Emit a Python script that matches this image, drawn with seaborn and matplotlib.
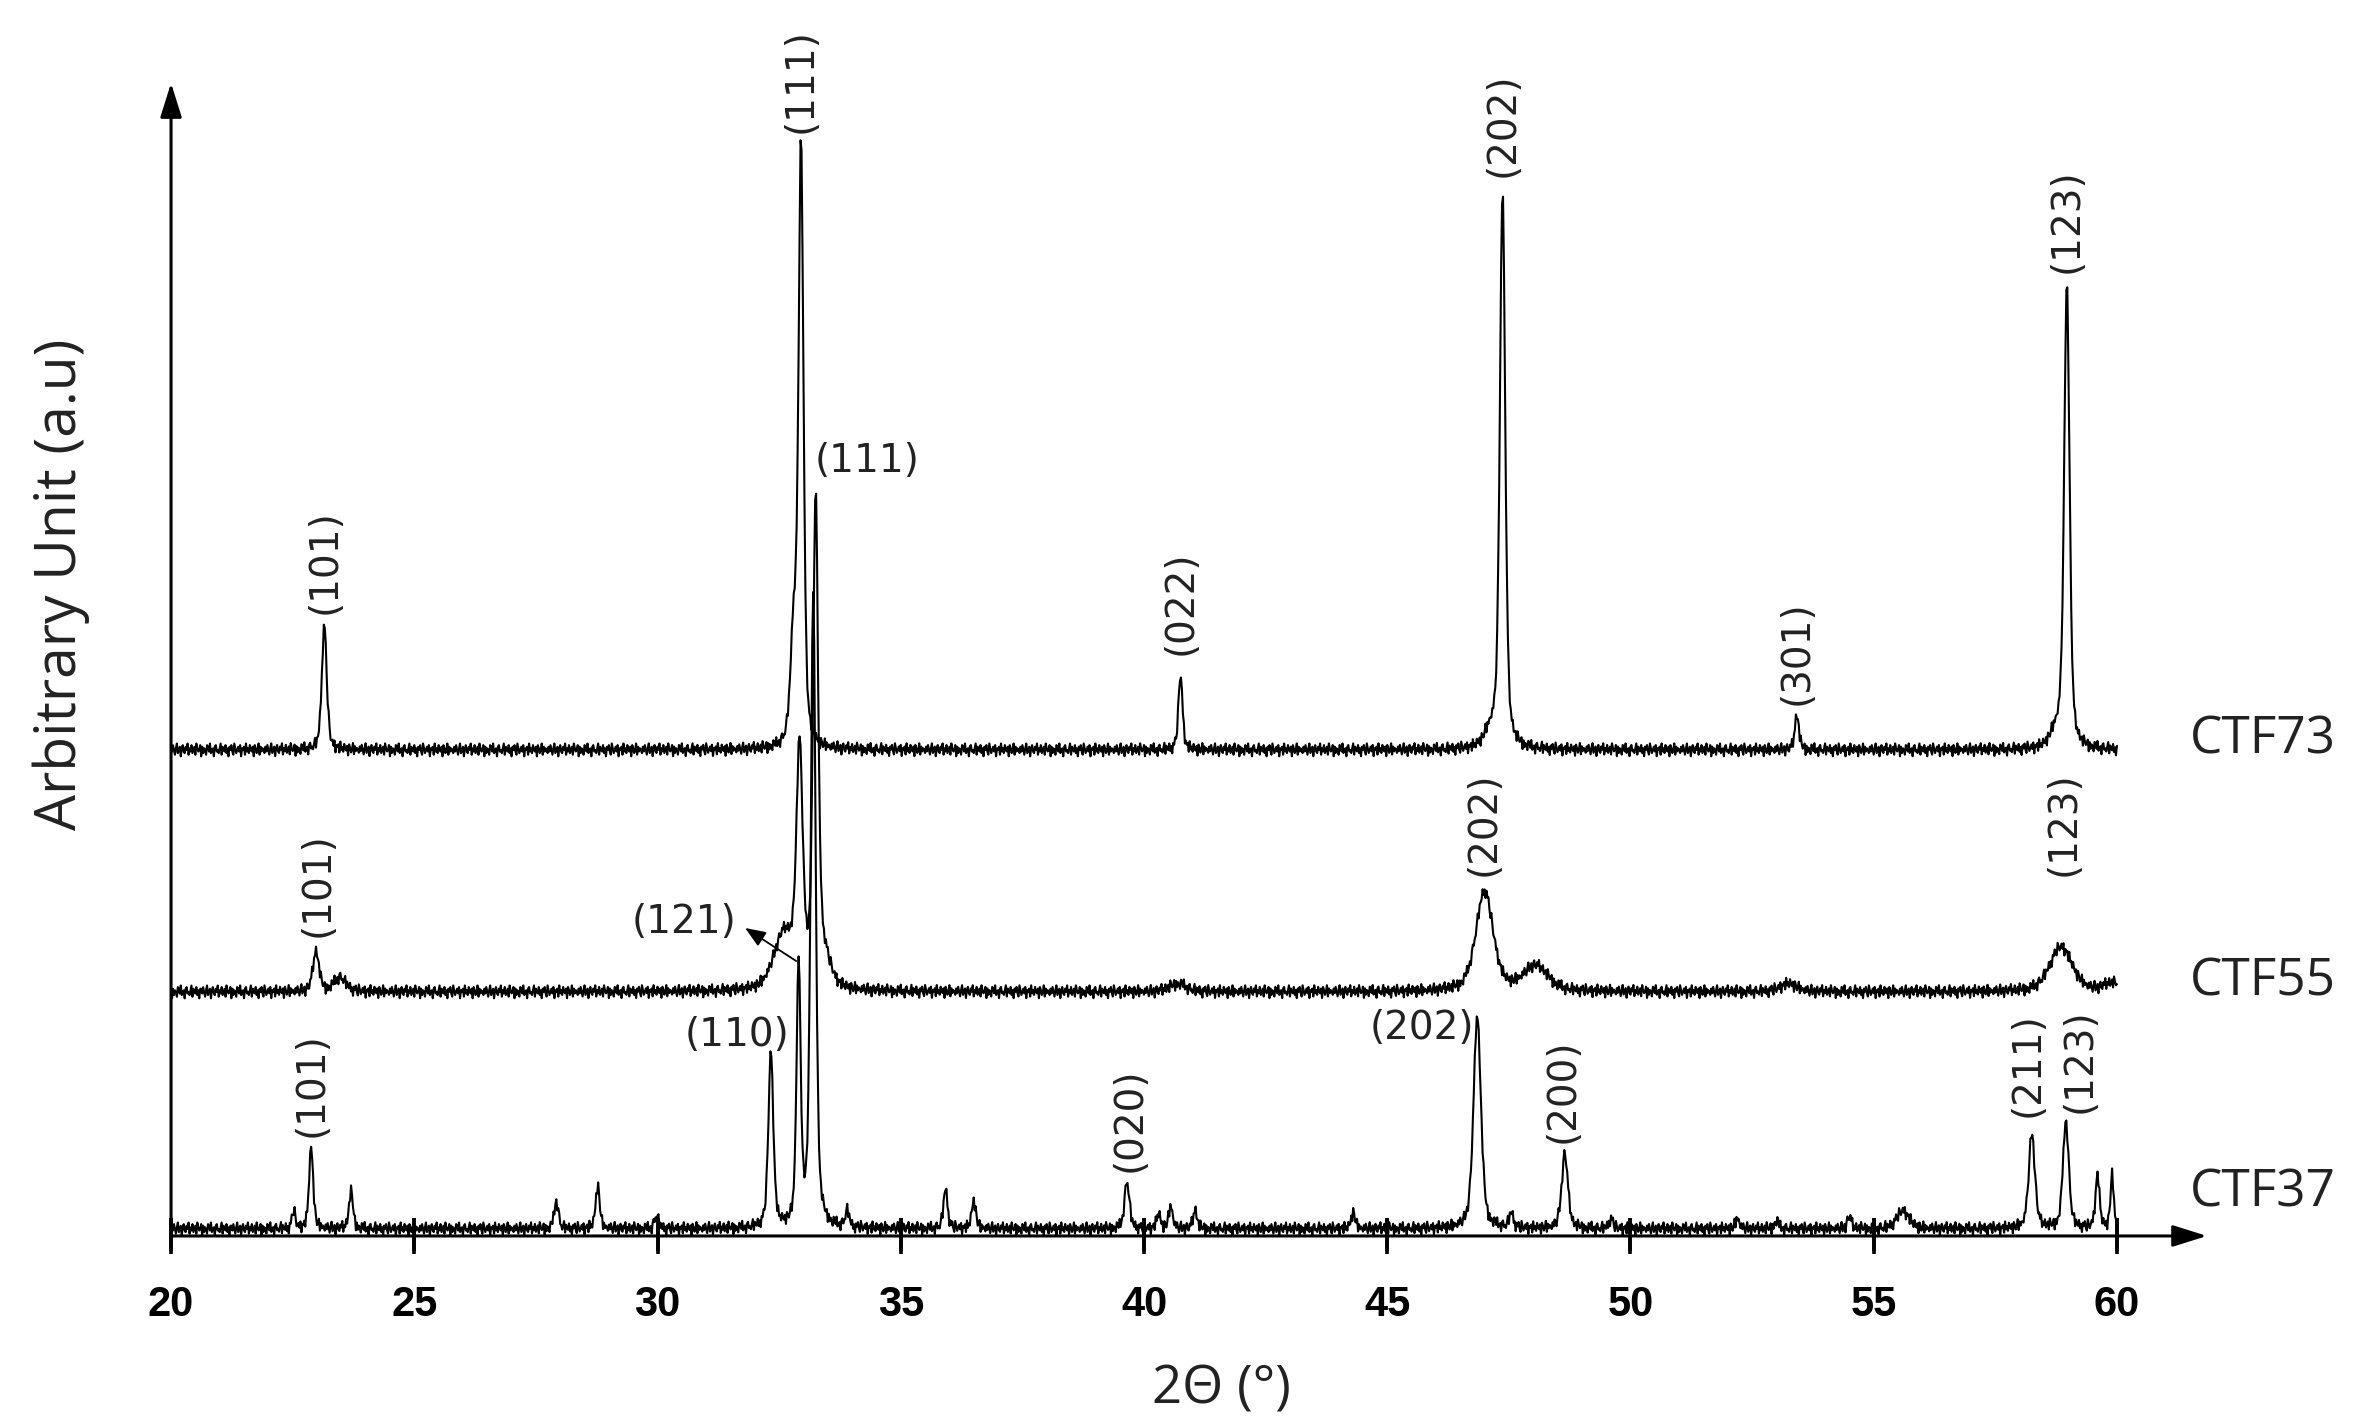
import numpy as np
import pandas as pd
import matplotlib
matplotlib.use("Agg")
import matplotlib.pyplot as plt
import seaborn as sns

# 2-theta scan range (degrees)
THETA_START, THETA_END, THETA_STEP = 20.0, 60.0, 0.02
x_ticks = [20, 25, 30, 35, 40, 45, 50, 55, 60]

samples = ["CTF73", "CTF55", "CTF37"]
offsets = [483, 241, 4]  # stacking offset of each trace (a.u.)

# Peaks: position (deg), height (a.u.), FWHM (deg)
ctf73_pos = [23.15, 32.80, 32.95, 40.75, 47.12, 47.37, 53.42, 58.75, 58.97]
ctf73_height = [125, 110, 600, 75, 15, 560, 35, 15, 465]
ctf73_fwhm = [0.12, 0.15, 0.12, 0.10, 0.30, 0.13, 0.10, 0.30, 0.13]

ctf55_pos = [22.98, 23.47, 32.60, 32.92, 33.25, 33.40, 40.70, 47.00, 48.05, 53.25, 58.85, 59.90]
ctf55_height = [40, 14, 55, 230, 480, 30, 8, 100, 25, 8, 45, 8]
ctf55_fwhm = [0.15, 0.30, 0.50, 0.15, 0.12, 0.35, 0.40, 0.42, 0.60, 0.40, 0.55, 0.40]

ctf37_pos = [22.52, 22.88, 23.70, 27.92, 28.77, 29.98, 32.33, 32.90, 33.20, 33.90,
             35.92, 36.50, 39.65, 40.30, 40.55, 41.05, 44.30, 46.85, 47.55, 48.65,
             49.60, 52.20, 53.00, 54.50, 55.60, 58.25, 58.95, 59.60, 59.90]
ctf37_height = [18, 82, 37, 28, 43, 13, 176, 261, 633, 16,
                40, 28, 47, 14, 22, 18, 16, 213, 15, 75,
                10, 10, 8, 12, 18, 95, 108, 53, 53]
ctf37_fwhm = [0.08, 0.10, 0.10, 0.10, 0.10, 0.10, 0.12, 0.10, 0.12, 0.10,
              0.10, 0.10, 0.12, 0.10, 0.10, 0.10, 0.10, 0.18, 0.10, 0.15,
              0.10, 0.10, 0.10, 0.10, 0.30, 0.15, 0.14, 0.10, 0.08]

# counting noise on the baselines (a.u.), repeated along the scan
noise = [2, -1, 3, 0, -3, 1, 4, -2, 0, 2, -4, 1, 3, -1, -2, 2, 0, 4, -3, 1,
         -1, 3, -2, 0, 2, -3, 4, 1, -1, 0, 3, -4, 2, -2, 1, 0, -3, 3, 2, -1,
         4, -2, 0, 1, -4, 2, 3, -1, 0, -2, 1, 4, -3, 2, 0, -1, 3, -2, 1, -4,
         2, 0, 3, -1, -3, 4, 1, -2, 0, 2, -1, 3, -4, 1, 0, 2, -3, 4, -1, 1,
         -2, 3, 0, -1, 2, -4, 3, 1, -2, 0, 4, -3, 2, -1, 1, 0, -2]

# Miller index labels (rotated): text, 2theta, y of the label foot
rot_labels = ["(101)", "(111)", "(022)", "(202)", "(301)", "(123)",
              "(101)", "(202)", "(123)",
              "(101)", "(020)", "(200)", "(211)", "(123)"]
rot_label_x = [23.15, 32.95, 40.75, 47.37, 53.42, 58.97,
               23.02, 46.98, 58.90,
               22.88, 39.70, 48.60, 58.17, 59.24]
rot_label_y = [619, 1100, 578, 1056, 528, 960,
               296, 357, 357,
               96, 61, 90, 116, 120]

# horizontal labels: text, 2theta, y of label centre
flat_labels = ["(111)", "(121)", "(110)", "(202)"]
flat_label_x = [34.31, 30.54, 31.63, 45.71]
flat_label_y = [772, 311, 198, 205]

sample_label_x = 61.50
sample_label_y = [493, 251, 40]


def pseudo_voigt(x, pos, h, w):
    d = (x - pos) / (w / 2.0)
    return h * (0.5 / (1.0 + d ** 2) + 0.5 * np.exp(-np.log(2) * d ** 2))


theta = np.arange(THETA_START, THETA_END + THETA_STEP / 2, THETA_STEP)
n = len(theta)
base_noise = np.resize(np.array(noise, dtype=float), n)

peak_sets = [
    (ctf73_pos, ctf73_height, ctf73_fwhm),
    (ctf55_pos, ctf55_height, ctf55_fwhm),
    (ctf37_pos, ctf37_height, ctf37_fwhm),
]

frames = []
for i, (name, off, (pos, hgt, fw)) in enumerate(zip(samples, offsets, peak_sets)):
    y = np.zeros(n)
    for p, h, w in zip(pos, hgt, fw):
        y += pseudo_voigt(theta, p, h, w)
    y += 1.6 * np.roll(base_noise, 31 * i) + off
    frames.append(pd.DataFrame({"theta": theta, "intensity": y, "sample": name}))
df = pd.concat(frames, ignore_index=True)

sns.set_style("white")
plt.rcParams["font.family"] = ["DejaVu Sans"]

fig = plt.figure(figsize=(23.69, 14.2), dpi=100)
ax = fig.add_axes([0.0722, 0.1296, 0.8594, 0.8119])

sns.lineplot(data=df, x="theta", y="intensity", hue="sample",
             palette={s: "black" for s in samples}, legend=False,
             estimator=None, linewidth=1.5, ax=ax)

ax.set_xlim(20, 61.85)
ax.set_ylim(-3, 1150)
for s in ax.spines.values():
    s.set_visible(False)

# axes drawn as arrows
arrow = dict(arrowstyle="-|>,head_length=0.7,head_width=0.22", color="black",
             lw=2.2, mutation_scale=30, shrinkA=0, shrinkB=0)
ax.annotate("", xy=(1, 0), xytext=(0, 0), xycoords="axes fraction", arrowprops=arrow)
ax.annotate("", xy=(0, 1), xytext=(0, 0), xycoords="axes fraction", arrowprops=arrow)

ax.set_xticks(x_ticks)
ax.set_yticks([])
ax.tick_params(axis="x", which="major", bottom=True, direction="inout",
               length=26, width=2.6, pad=22, labelsize=30, colors="black")
# tick marks crossing the arrow axis
ax.vlines(x_ticks, -0.013, 0.016, transform=ax.get_xaxis_transform(),
          colors="black", linewidth=2.6, clip_on=False, zorder=5)
for lab in ax.get_xticklabels():
    lab.set_fontfamily(["Liberation Sans Narrow", "Liberation Sans"])
    lab.set_fontweight("bold")

ax.set_xlabel("2Θ (°)", fontsize=38, family="Open Sans", color="#222222")
ax.xaxis.set_label_coords(0.516, -0.133)
ax.xaxis.label.set_va("center")
ax.set_ylabel("Arbitrary Unit (a.u)", fontsize=41, family="Open Sans", color="#222222")
ax.yaxis.set_label_coords(-0.054, 0.5655)
ax.yaxis.label.set_va("center")

for t, x, y in zip(rot_labels, rot_label_x, rot_label_y):
    ax.text(x, y, t, rotation=90, ha="center", va="bottom", fontsize=28,
            color="#222222", clip_on=False)
for t, x, y in zip(flat_labels, flat_label_x, flat_label_y):
    ax.text(x, y, t, ha="center", va="center", fontsize=28, color="#222222",
            clip_on=False)

# arrow pointing at the (121) shoulder of CTF55
ax.annotate("", xy=(31.8, 305), xytext=(32.85, 272),
            arrowprops=dict(arrowstyle="-|>,head_length=0.5,head_width=0.2",
                            color="black", lw=1.3, mutation_scale=25,
                            shrinkA=0, shrinkB=0))

for name, y in zip(samples, sample_label_y):
    ax.text(sample_label_x, y, name, ha="left", va="center", fontsize=37,
            family="Open Sans", color="#222222", clip_on=False)

fig.savefig("out.png", dpi=100)
